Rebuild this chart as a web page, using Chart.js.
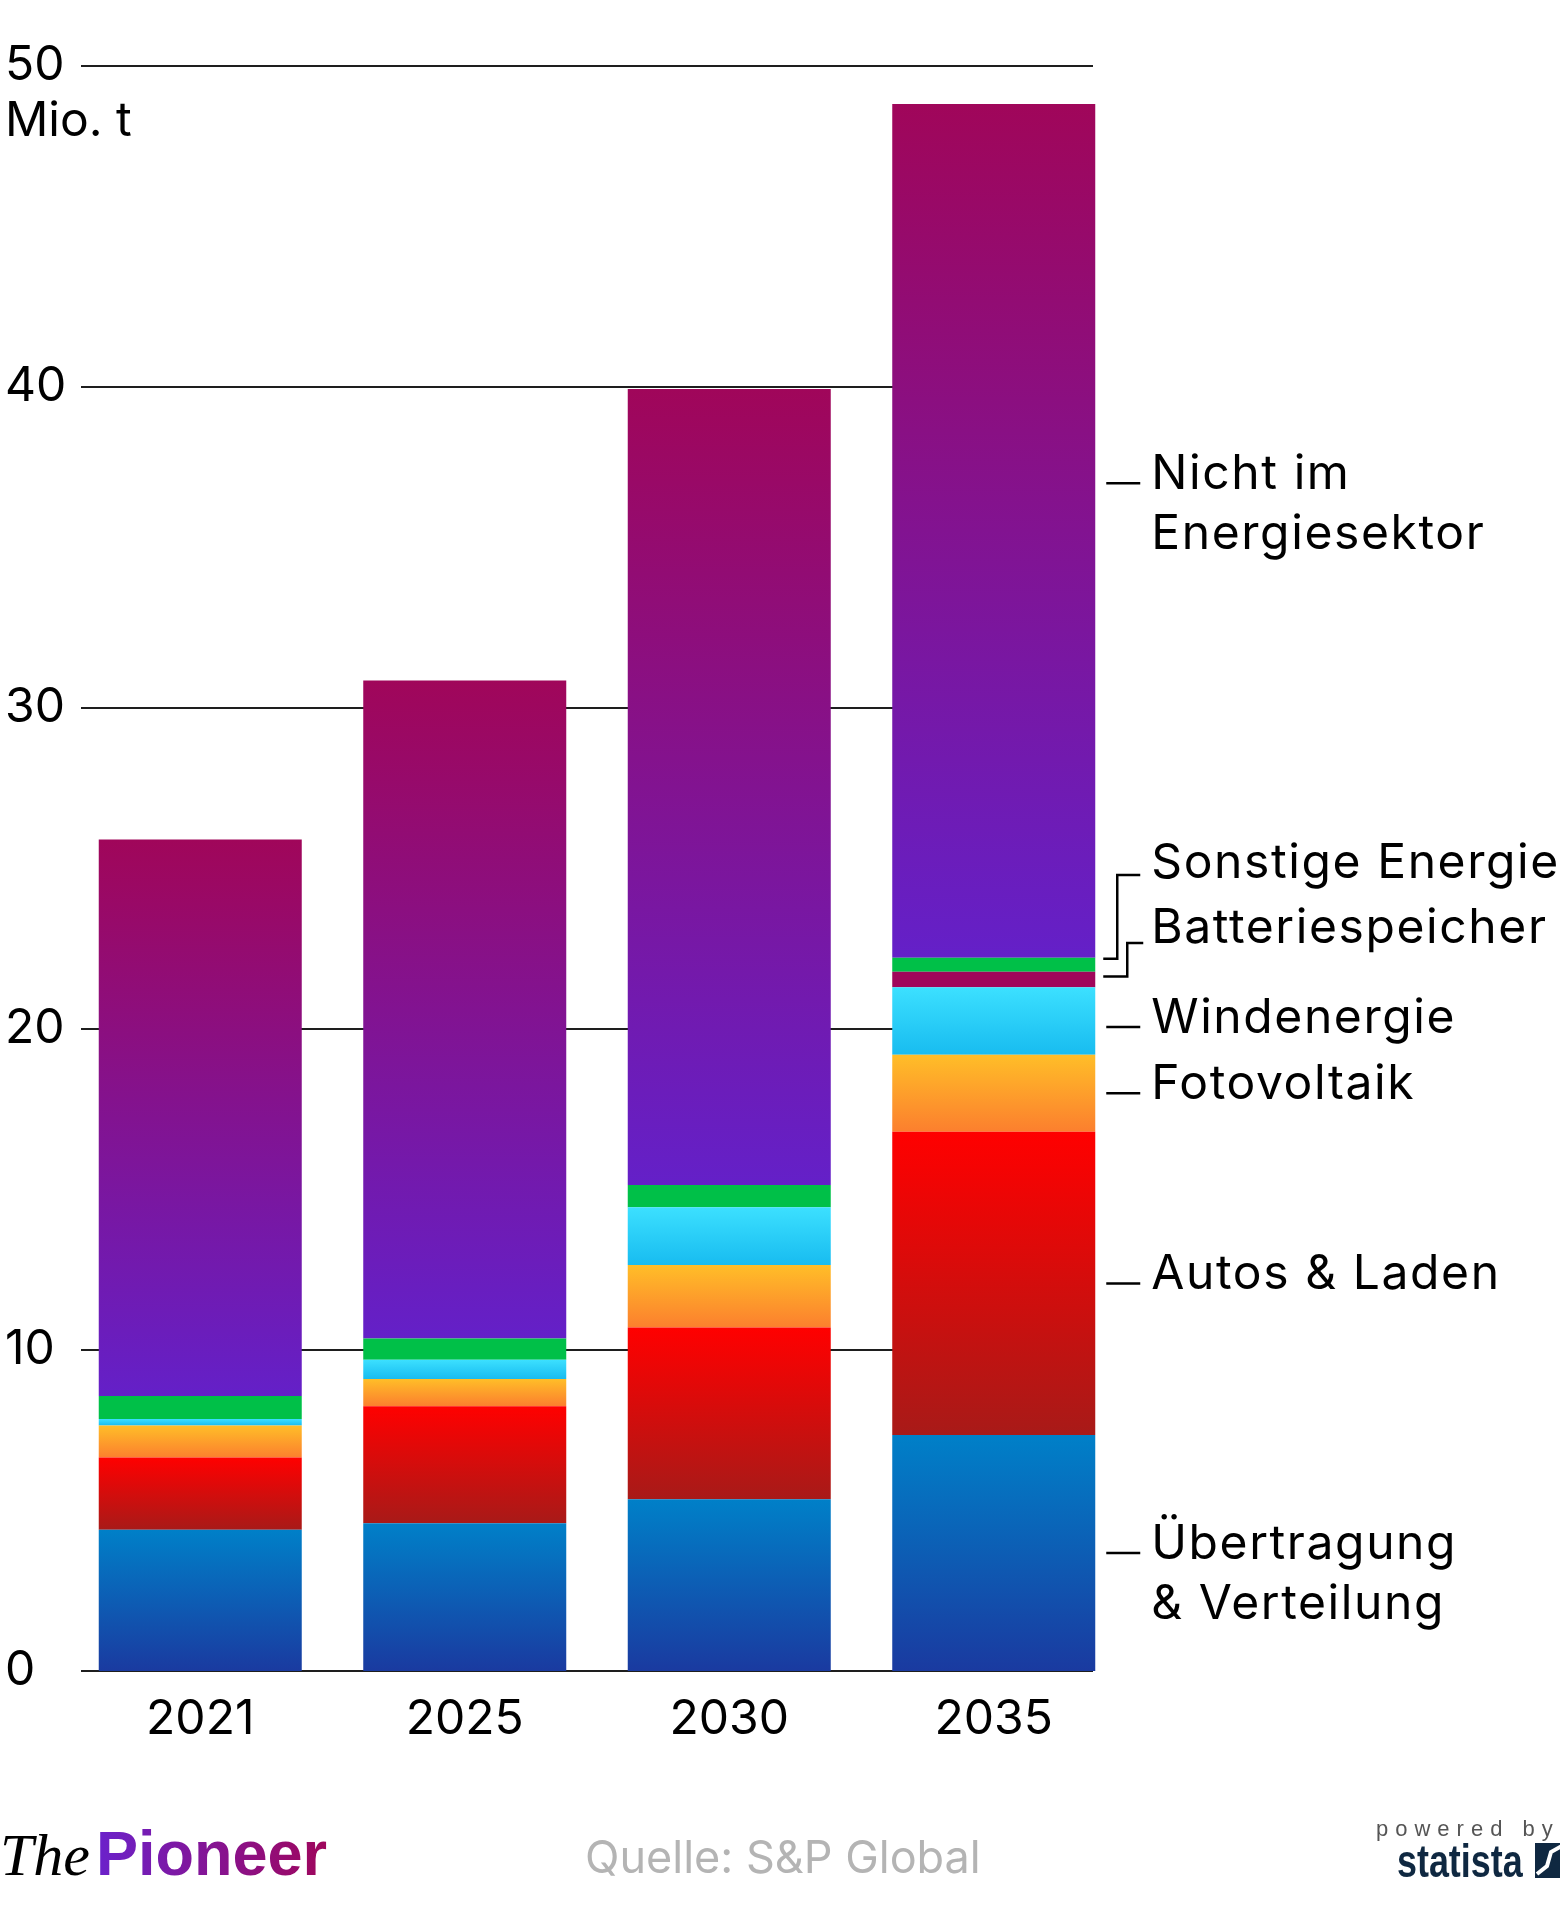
<!DOCTYPE html>
<html>
<head>
<meta charset="utf-8">
<script src="https://cdn.jsdelivr.net/npm/chart.js@4"></script>
<style>
  html, body { margin: 0; padding: 0; background: #fff; }
  #wrap { position: relative; width: 1560px; height: 1913px; }
</style>
</head>
<body>
<div id="wrap"><canvas id="grafik"></canvas></div>
<script>
// Werte in Mio. t
const jahre = ['2021', '2025', '2030', '2035'];
const uebertragung = [4.4, 4.6, 5.35, 7.35];
const autos = [2.25, 3.65, 5.35, 9.45];
const fotovoltaik = [1.0, 0.85, 1.95, 2.4];
const windenergie = [0.2, 0.6, 1.8, 2.1];
const batteriespeicher = [0, 0, 0, 0.48];
const sonstige = [0.72, 0.66, 0.69, 0.44];
const nichtEnergie = [17.33, 20.5, 24.8, 26.6];
const yTicks = [0, 10, 20, 30, 40, 50];

const SCHRIFT = 'Inter, "Open Sans", sans-serif';

// vertikaler Verlauf pro Segment
function verlauf(oben, unten) {
  return function (c) {
    const chart = c.chart;
    const y = chart.scales && chart.scales.y;
    if (c.type !== 'data' || !y || !chart.chartArea) return unten;
    let basis = 0;
    for (let i = 0; i < c.datasetIndex; i++) basis += chart.data.datasets[i].data[c.dataIndex];
    const wert = chart.data.datasets[c.datasetIndex].data[c.dataIndex];
    const y0 = y.getPixelForValue(basis + wert);
    const y1 = y.getPixelForValue(basis);
    if (!isFinite(y0) || !isFinite(y1) || y1 - y0 < 1) return oben;
    const g = chart.ctx.createLinearGradient(0, y0, 0, y1);
    g.addColorStop(0, oben);
    g.addColorStop(1, unten);
    return g;
  };
}

const beschriftung = {
  id: 'beschriftung',
  beforeDatasetsDraw(chart) {
    const { ctx, chartArea, scales: { y } } = chart;
    ctx.save();
    ctx.strokeStyle = '#1e1e1e';
    ctx.lineWidth = 2;
    yTicks.forEach(v => {
      const py = Math.round(y.getPixelForValue(v));
      ctx.beginPath();
      ctx.moveTo(chartArea.left + 13, py);
      ctx.lineTo(chartArea.right - 33, py);
      ctx.stroke();
    });
    ctx.restore();
  },
  afterDraw(chart) {
    const { ctx, scales: { y } } = chart;
    const ds = chart.data.datasets;
    const k = jahre.length - 1;
    const meta = chart.getDatasetMeta(0);
    const bar = meta.data[k];
    const rechts = bar.x + bar.width / 2;

    // Mitte eines Segments im letzten Balken
    const mitte = i => {
      let b = 0;
      for (let j = 0; j < i; j++) b += ds[j].data[k];
      return y.getPixelForValue(b + ds[i].data[k] / 2);
    };

    ctx.save();
    ctx.fillStyle = '#000';
    ctx.font = '48px ' + SCHRIFT;
    ctx.textBaseline = 'middle';
    ctx.textAlign = 'left';
    ctx.fillText('Mio. t', 5, y.getPixelForValue(50) + 56);

    ctx.strokeStyle = '#000';
    ctx.lineWidth = 2.5;
    ctx.textBaseline = 'alphabetic';
    ctx.letterSpacing = '1.6px';
    const tx = rechts + 56;
    const x0 = rechts + 11, x1 = rechts + 45;

    function etikett(ly, zeilen) {
      ctx.beginPath();
      ctx.moveTo(x0, ly); ctx.lineTo(x1, ly); ctx.stroke();
      zeilen.forEach((z, n) => ctx.fillText(z, tx, ly + 6 + n * 60));
    }
    etikett(y.getPixelForValue(37), ['Nicht im', 'Energiesektor']);
    const windY = mitte(3) + 6;
    etikett(windY, ['Windenergie']);
    etikett(mitte(2), ['Fotovoltaik']);
    etikett(mitte(1), ['Autos & Laden']);
    etikett(mitte(0), ['Übertragung', '& Verteilung']);

    // Klammern für die schmalen Segmente
    const battY = windY - 84;
    const sonstY = battY - 68;
    const gruenY = mitte(5) - 6;
    const magY = mitte(4) - 3;
    ctx.beginPath();
    ctx.moveTo(x1, sonstY); ctx.lineTo(rechts + 22, sonstY);
    ctx.lineTo(rechts + 22, gruenY); ctx.lineTo(rechts + 8, gruenY);
    ctx.stroke();
    ctx.beginPath();
    ctx.moveTo(x1 + 3, battY); ctx.lineTo(rechts + 32, battY);
    ctx.lineTo(rechts + 32, magY); ctx.lineTo(rechts + 8, magY);
    ctx.stroke();
    ctx.fillText('Sonstige Energie', tx, sonstY + 3);
    ctx.fillText('Batteriespeicher', tx, battY);
    ctx.letterSpacing = '0px';

    // Fußzeile
    ctx.font = 'italic 60px "Liberation Serif", serif';
    ctx.fillStyle = '#000';
    ctx.fillText('The', 0, 1875);
    const pg = ctx.createLinearGradient(95, 0, 330, 0);
    pg.addColorStop(0, '#6a22cc');
    pg.addColorStop(1, '#a0065a');
    ctx.fillStyle = pg;
    ctx.font = 'bold 63px "Liberation Sans", sans-serif';
    ctx.fillText('Pioneer', 96, 1875);

    ctx.fillStyle = '#b4b4b4';
    ctx.font = '45px ' + SCHRIFT;
    ctx.fillText('Quelle: S&P Global', 585, 1873);

    ctx.fillStyle = '#555';
    ctx.font = '22px "Liberation Sans", sans-serif';
    ctx.letterSpacing = '7px';
    ctx.fillText('powered by', 1376, 1836);
    ctx.letterSpacing = '0px';
    ctx.fillStyle = '#0f2841';
    ctx.save();
    ctx.translate(1397, 1877);
    ctx.scale(0.78, 1);
    ctx.font = 'bold 46px "Liberation Sans", sans-serif';
    ctx.fillText('statista', 0, 0);
    ctx.restore();
    ctx.fillRect(1535, 1843, 30, 35);
    ctx.strokeStyle = '#fff';
    ctx.lineWidth = 4;
    ctx.beginPath();
    ctx.moveTo(1537, 1874); ctx.lineTo(1547, 1866); ctx.lineTo(1551, 1852); ctx.lineTo(1562, 1846);
    ctx.stroke();
    ctx.restore();
  }
};

new Chart(document.getElementById('grafik').getContext('2d'), {
  type: 'bar',
  data: {
    labels: jahre,
    datasets: [
      { label: 'Übertragung & Verteilung', data: uebertragung, backgroundColor: verlauf('#0080c8', '#1a3aa0') },
      { label: 'Autos & Laden', data: autos, backgroundColor: verlauf('#ff0000', '#a81a18') },
      { label: 'Fotovoltaik', data: fotovoltaik, backgroundColor: verlauf('#ffbe28', '#fc7f2e') },
      { label: 'Windenergie', data: windenergie, backgroundColor: verlauf('#3ce0ff', '#18bcf0') },
      { label: 'Batteriespeicher', data: batteriespeicher, backgroundColor: '#a0065a' },
      { label: 'Sonstige Energie', data: sonstige, backgroundColor: '#00c048' },
      { label: 'Nicht im Energiesektor', data: nichtEnergie, backgroundColor: verlauf('#a0065a', '#6420c8') }
    ]
  },
  options: {
    responsive: true,
    maintainAspectRatio: false,
    animation: false,
    datasets: { bar: { categoryPercentage: 1, barPercentage: 0.7675, borderWidth: 0 } },
    layout: { padding: { left: 5, right: 434, top: 66, bottom: 0 } },
    plugins: { legend: { display: false }, tooltip: { enabled: false } },
    scales: {
      x: {
        stacked: true,
        grid: { display: false, drawTicks: false },
        border: { display: false },
        ticks: { color: '#000', font: { family: SCHRIFT, size: 48 }, padding: 20 },
        afterFit(s) { s.height = 242; }
      },
      y: {
        stacked: true,
        min: 0,
        max: 50,
        grid: { display: false, drawTicks: false },
        border: { display: false },
        ticks: { stepSize: 10, color: '#000', crossAlign: 'far', font: { family: SCHRIFT, size: 48 } },
        afterFit(s) { s.width = 63; }
      }
    }
  },
  plugins: [beschriftung]
});
</script>
</body>
</html>
